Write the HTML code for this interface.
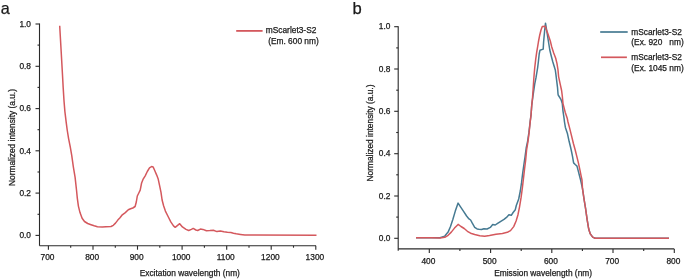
<!DOCTYPE html>
<html><head><meta charset="utf-8"><style>
html,body{margin:0;padding:0;background:#fff;}
body{width:685px;height:279px;position:relative;overflow:hidden;}
</style></head><body>
<svg width="685" height="279" viewBox="0 0 685 279" style="position:absolute;left:0;top:0">
<g font-family="'Liberation Sans', Arial, sans-serif" fill="#1a1a1a" stroke="#1a1a1a" stroke-width="0.25" font-size="8.35">
<text x="0.8" y="13.6" font-size="16.2">a</text>
<text x="352.6" y="13.6" font-size="16.6">b</text>
<path d="M39.0,24.0 H39.5 V245.7" fill="none" stroke="#2a2a2a" stroke-width="1.1"/>
<path d="M39.5,245.7 H316.0" fill="none" stroke="#2a2a2a" stroke-width="1.1"/>
<path d="M35.5,235.4 H39.5" stroke="#2a2a2a" stroke-width="1.1"/>
<text x="31" y="238.1" text-anchor="end">0.0</text>
<path d="M37.5,214.3 H39.5" stroke="#2a2a2a" stroke-width="1.1"/>
<path d="M35.5,193.1 H39.5" stroke="#2a2a2a" stroke-width="1.1"/>
<text x="31" y="195.8" text-anchor="end">0.2</text>
<path d="M37.5,172.0 H39.5" stroke="#2a2a2a" stroke-width="1.1"/>
<path d="M35.5,150.8 H39.5" stroke="#2a2a2a" stroke-width="1.1"/>
<text x="31" y="153.5" text-anchor="end">0.4</text>
<path d="M37.5,129.7 H39.5" stroke="#2a2a2a" stroke-width="1.1"/>
<path d="M35.5,108.6 H39.5" stroke="#2a2a2a" stroke-width="1.1"/>
<text x="31" y="111.3" text-anchor="end">0.6</text>
<path d="M37.5,87.4 H39.5" stroke="#2a2a2a" stroke-width="1.1"/>
<path d="M35.5,66.3 H39.5" stroke="#2a2a2a" stroke-width="1.1"/>
<text x="31" y="69.0" text-anchor="end">0.8</text>
<path d="M37.5,45.1 H39.5" stroke="#2a2a2a" stroke-width="1.1"/>
<path d="M35.5,24.0 H39.5" stroke="#2a2a2a" stroke-width="1.1"/>
<text x="31" y="26.7" text-anchor="end">1.0</text>
<path d="M48.4,245.7 V249.7" stroke="#2a2a2a" stroke-width="1.1"/>
<text x="47.5" y="260.3" text-anchor="middle">700</text>
<path d="M70.7,245.7 V247.7" stroke="#2a2a2a" stroke-width="1.1"/>
<path d="M93.0,245.7 V249.7" stroke="#2a2a2a" stroke-width="1.1"/>
<text x="92.1" y="260.3" text-anchor="middle">800</text>
<path d="M115.3,245.7 V247.7" stroke="#2a2a2a" stroke-width="1.1"/>
<path d="M137.5,245.7 V249.7" stroke="#2a2a2a" stroke-width="1.1"/>
<text x="136.6" y="260.3" text-anchor="middle">900</text>
<path d="M159.8,245.7 V247.7" stroke="#2a2a2a" stroke-width="1.1"/>
<path d="M182.1,245.7 V249.7" stroke="#2a2a2a" stroke-width="1.1"/>
<text x="181.2" y="260.3" text-anchor="middle">1000</text>
<path d="M204.4,245.7 V247.7" stroke="#2a2a2a" stroke-width="1.1"/>
<path d="M226.7,245.7 V249.7" stroke="#2a2a2a" stroke-width="1.1"/>
<text x="225.8" y="260.3" text-anchor="middle">1100</text>
<path d="M249.0,245.7 V247.7" stroke="#2a2a2a" stroke-width="1.1"/>
<path d="M271.2,245.7 V249.7" stroke="#2a2a2a" stroke-width="1.1"/>
<text x="270.4" y="260.3" text-anchor="middle">1200</text>
<path d="M293.5,245.7 V247.7" stroke="#2a2a2a" stroke-width="1.1"/>
<path d="M315.8,245.7 V249.7" stroke="#2a2a2a" stroke-width="1.1"/>
<text x="314.9" y="260.3" text-anchor="middle">1300</text>
<text x="189.8" y="275.7" text-anchor="middle">Excitation wavelength (nm)</text>
<text transform="translate(14.5,137.5) rotate(-90)" text-anchor="middle">Normalized intensity (a.u.)</text>
<path d="M397.7,26.7 H398.2 V250.7" fill="none" stroke="#2a2a2a" stroke-width="1.1"/>
<path d="M398.2,248.9 H674.3" fill="none" stroke="#2a2a2a" stroke-width="1.1"/>
<path d="M394.2,238.3 H398.2" stroke="#2a2a2a" stroke-width="1.1"/>
<text x="390.4" y="241.0" text-anchor="end">0.0</text>
<path d="M396.2,217.1 H398.2" stroke="#2a2a2a" stroke-width="1.1"/>
<path d="M394.2,196.0 H398.2" stroke="#2a2a2a" stroke-width="1.1"/>
<text x="390.4" y="198.7" text-anchor="end">0.2</text>
<path d="M396.2,174.8 H398.2" stroke="#2a2a2a" stroke-width="1.1"/>
<path d="M394.2,153.7 H398.2" stroke="#2a2a2a" stroke-width="1.1"/>
<text x="390.4" y="156.4" text-anchor="end">0.4</text>
<path d="M396.2,132.5 H398.2" stroke="#2a2a2a" stroke-width="1.1"/>
<path d="M394.2,111.3 H398.2" stroke="#2a2a2a" stroke-width="1.1"/>
<text x="390.4" y="114.0" text-anchor="end">0.6</text>
<path d="M396.2,90.2 H398.2" stroke="#2a2a2a" stroke-width="1.1"/>
<path d="M394.2,69.0 H398.2" stroke="#2a2a2a" stroke-width="1.1"/>
<text x="390.4" y="71.7" text-anchor="end">0.8</text>
<path d="M396.2,47.9 H398.2" stroke="#2a2a2a" stroke-width="1.1"/>
<path d="M394.2,26.7 H398.2" stroke="#2a2a2a" stroke-width="1.1"/>
<text x="390.4" y="29.4" text-anchor="end">1.0</text>
<path d="M429.3,248.9 V252.9" stroke="#2a2a2a" stroke-width="1.1"/>
<text x="428.4" y="263.5" text-anchor="middle">400</text>
<path d="M459.9,248.9 V250.9" stroke="#2a2a2a" stroke-width="1.1"/>
<path d="M490.6,248.9 V252.9" stroke="#2a2a2a" stroke-width="1.1"/>
<text x="489.7" y="263.5" text-anchor="middle">500</text>
<path d="M521.2,248.9 V250.9" stroke="#2a2a2a" stroke-width="1.1"/>
<path d="M551.8,248.9 V252.9" stroke="#2a2a2a" stroke-width="1.1"/>
<text x="550.9" y="263.5" text-anchor="middle">600</text>
<path d="M582.4,248.9 V250.9" stroke="#2a2a2a" stroke-width="1.1"/>
<path d="M613.0,248.9 V252.9" stroke="#2a2a2a" stroke-width="1.1"/>
<text x="612.1" y="263.5" text-anchor="middle">700</text>
<path d="M643.7,248.9 V250.9" stroke="#2a2a2a" stroke-width="1.1"/>
<path d="M674.3,248.9 V252.9" stroke="#2a2a2a" stroke-width="1.1"/>
<text x="673.4" y="263.5" text-anchor="middle">800</text>
<text x="543.1" y="276.2" text-anchor="middle">Emission wavelength (nm)</text>
<text transform="translate(372.9,133) rotate(-90)" text-anchor="middle">Normalized intensity (a.u.)</text>
<polyline points="59.7,25.8 61.2,52.0 62.5,75.0 63.2,87.9 64.0,100.8 64.9,111.6 66.2,122.3 67.2,130.0 68.6,138.6 70.3,147.2 71.8,155.8 73.3,166.6 75.1,177.3 76.5,190.0 77.3,198.1 78.4,206.1 80.0,212.6 82.1,218.2 84.5,221.5 87.7,223.5 91.0,224.7 94.2,225.8 97.4,226.8 102.3,227.1 106.0,226.8 111.0,226.5 113.3,225.3 115.5,223.1 117.8,220.1 120.0,217.8 122.3,214.8 125.3,212.6 128.3,209.8 130.6,208.8 132.8,208.0 135.1,206.5 136.3,202.0 137.3,196.0 138.8,193.0 140.2,190.1 141.6,183.0 143.0,179.4 145.2,175.8 147.3,171.5 149.5,167.9 151.6,166.5 153.1,166.9 154.5,170.0 156.7,175.1 158.1,178.7 159.5,185.1 161.0,192.3 162.1,200.0 163.6,205.8 165.4,211.1 168.1,216.5 170.8,221.9 173.5,225.9 175.2,227.3 177.9,225.1 179.7,223.7 182.4,226.9 186.0,229.4 188.7,230.5 191.4,229.4 193.2,228.4 195.9,230.0 197.7,230.5 200.4,229.1 202.9,229.4 206.4,230.8 209.9,230.6 213.4,230.3 216.9,231.6 220.4,230.9 223.9,231.8 227.4,232.3 230.9,232.5 233.5,233.2 236.2,233.8 240.5,234.4 244.9,235.0 255.0,235.1 316.5,235.3" fill="none" stroke="#d4585d" stroke-width="1.5" stroke-linejoin="round"/>
<polyline points="416.0,237.7 431.5,237.7 440.0,237.7 444.8,236.1 448.1,232.1 450.5,226.5 452.9,219.2 455.3,211.1 458.1,203.1 460.2,206.3 463.4,211.1 466.6,216.0 469.0,218.9 470.6,220.0 472.3,223.2 474.7,227.3 477.1,228.9 479.0,229.2 481.5,229.5 483.9,228.7 487.1,229.0 490.3,227.4 492.7,224.5 495.2,225.0 497.6,223.4 500.8,221.3 504.0,219.4 506.5,217.4 508.9,214.8 511.3,215.3 513.1,212.5 515.3,209.7 516.3,205.5 518.7,199.0 520.3,191.0 521.5,182.9 522.7,173.2 523.9,164.5 525.0,157.0 526.2,148.0 527.6,141.3 528.9,132.7 530.1,122.0 531.1,114.3 531.7,105.7 532.7,98.0 533.6,91.6 534.7,84.1 536.0,77.7 537.6,68.0 538.4,61.5 539.2,54.0 540.0,50.2 543.2,49.1 543.6,42.0 544.6,31.0 545.5,23.2 546.3,28.0 548.2,40.0 549.8,50.0 551.0,55.0 552.7,61.5 554.3,66.8 555.3,70.0 555.9,74.4 556.7,80.9 557.5,87.3 558.0,93.8 558.2,95.0 560.9,99.3 562.3,103.6 563.0,111.1 564.1,118.6 564.5,122.0 565.4,127.4 567.5,133.8 569.1,141.3 570.7,147.8 571.2,150.0 572.5,156.4 573.6,162.9 575.2,164.5 577.0,166.1 578.1,170.4 579.5,175.8 580.6,180.0 582.5,188.7 584.1,199.5 585.5,208.0 587.1,219.4 588.7,229.0 590.3,233.9 592.7,237.1 595.2,238.2 669.0,238.2" fill="none" stroke="#467a92" stroke-width="1.5" stroke-linejoin="round"/>
<polyline points="416.0,237.7 431.5,237.7 440.0,238.0 444.8,237.3 448.1,235.3 451.3,232.1 454.5,228.1 458.1,224.4 461.0,226.5 464.2,228.5 467.4,231.3 470.6,233.2 474.7,234.5 479.8,235.8 484.7,236.3 489.5,235.5 496.0,234.2 502.4,233.4 507.3,232.3 510.5,230.6 513.7,226.6 516.1,221.0 517.9,215.0 519.5,207.1 521.1,197.4 522.4,187.7 523.5,178.1 524.5,169.3 525.6,160.7 526.6,150.0 528.0,141.3 529.1,132.7 530.2,122.0 531.1,114.3 531.7,105.7 532.5,98.0 533.1,89.5 533.8,78.7 534.7,68.0 535.7,59.3 536.6,52.9 537.7,46.4 538.4,42.0 539.7,35.2 541.0,30.0 542.3,26.6 545.3,26.2 546.2,29.2 547.8,33.5 549.2,37.8 550.3,41.0 551.6,46.4 553.7,52.9 555.7,58.2 557.0,63.6 558.0,70.0 558.6,76.6 560.2,84.1 561.6,90.5 562.3,96.0 563.0,103.6 565.2,112.2 567.3,118.6 568.0,122.0 569.7,128.4 571.3,134.9 573.4,143.5 575.2,150.0 576.8,156.4 578.4,162.9 579.8,169.3 581.1,175.8 582.0,180.0 582.5,188.7 584.1,199.5 585.5,208.0 587.1,219.4 588.7,229.0 590.3,233.9 592.7,237.1 595.2,238.2 669.0,238.2" fill="none" stroke="#d4585d" stroke-width="1.5" stroke-linejoin="round"/>
<path d="M236.2,30.9 H262.6" stroke="#d4585d" stroke-width="1.8"/>
<text x="265.8" y="33.2">mScarlet3-S2</text>
<text x="268.2" y="43.8">(Em. 600 nm)</text>
<path d="M600.2,32.0 H627.7" stroke="#467a92" stroke-width="1.7"/>
<text x="631.3" y="34.6">mScarlet3-S2</text>
<text x="631.3" y="45.4" xml:space="preserve" style="white-space:pre">(Ex. 920   nm)</text>
<path d="M601,57.3 H626.9" stroke="#d4585d" stroke-width="1.7"/>
<text x="631.3" y="60.4">mScarlet3-S2</text>
<text x="631.3" y="70.5">(Ex. 1045 nm)</text>
</g></svg>
</body></html>
